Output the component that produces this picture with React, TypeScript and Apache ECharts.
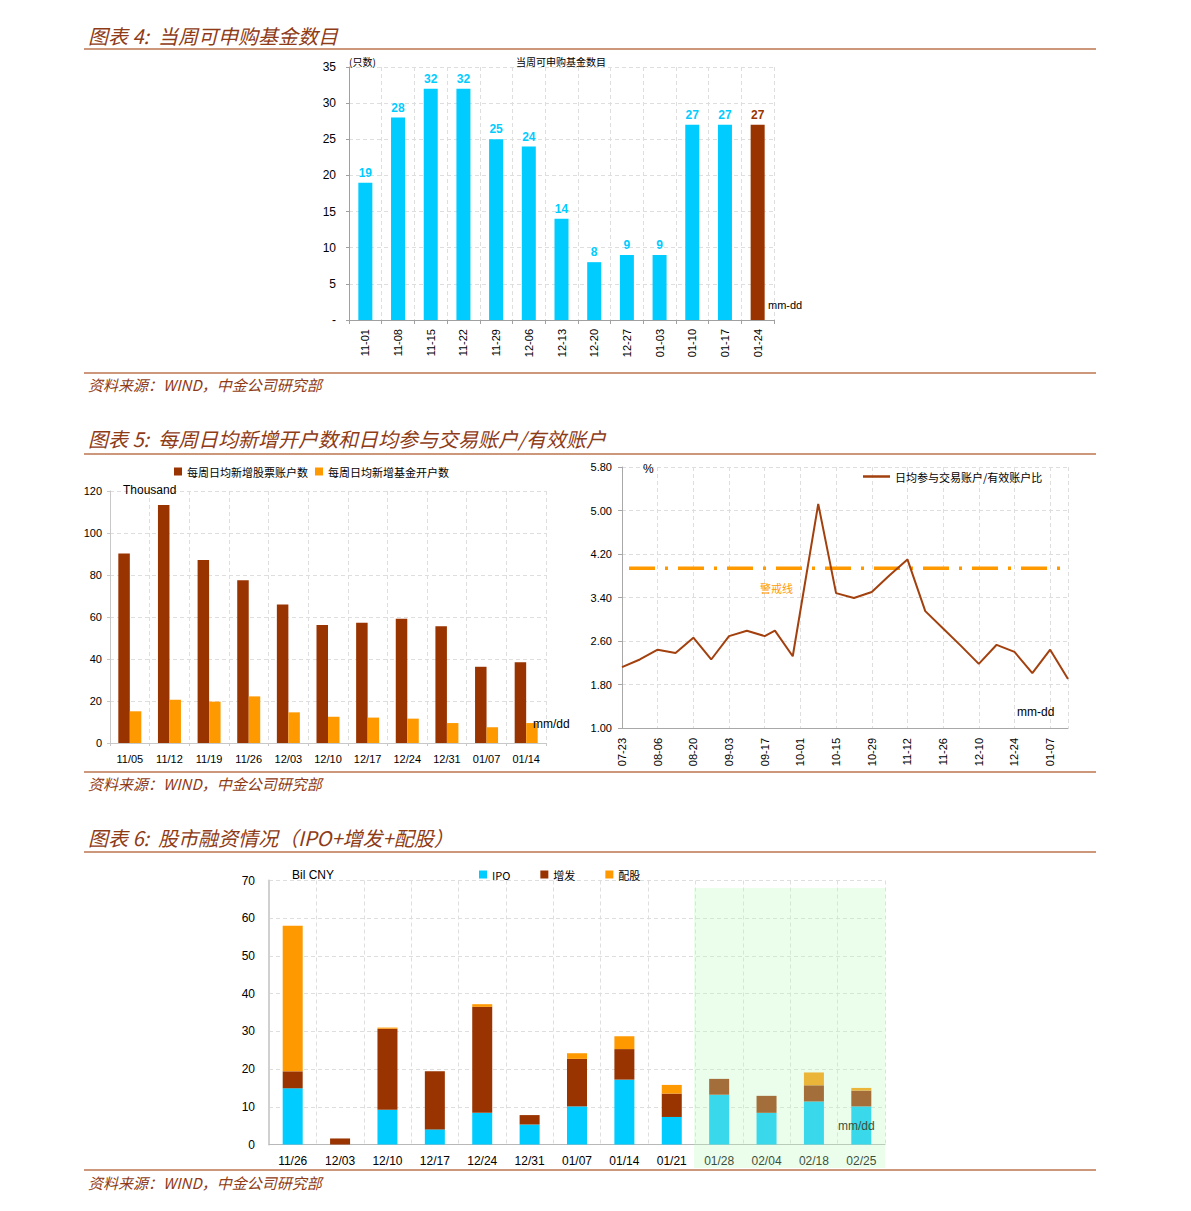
import React, { useEffect, useRef } from "react";
import * as echarts from "echarts";

// 图表4：当周可申购基金数目
const fundWeeks = ["11-01", "11-08", "11-15", "11-22", "11-29", "12-06", "12-13", "12-20", "12-27", "01-03", "01-10", "01-17", "01-24"];
const fundCounts = [19, 28, 32, 32, 25, 24, 14, 8, 9, 9, 27, 27, 27];

// 图表5（左）：每周日均新增开户数（千户）
const accountWeeks = ["11/05", "11/12", "11/19", "11/26", "12/03", "12/10", "12/17", "12/24", "12/31", "01/07", "01/14"];
const newStockAccounts = [90.2, 113.3, 87.1, 77.5, 65.9, 56.2, 57.3, 59.2, 55.6, 36.3, 38.4];
const newFundAccounts = [15.1, 20.6, 19.7, 22.2, 14.6, 12.5, 12.1, 11.6, 9.5, 7.5, 9.5];

// 图表5（右）：日均参与交易账户/有效账户比（%）
const ratioDates = [
  "2007-07-23", "2007-07-30", "2007-08-06", "2007-08-13", "2007-08-20", "2007-08-27",
  "2007-09-03", "2007-09-10", "2007-09-17", "2007-09-21", "2007-09-28", "2007-10-08",
  "2007-10-15", "2007-10-22", "2007-10-29", "2007-11-05", "2007-11-12", "2007-11-19",
  "2007-11-26", "2007-12-03", "2007-12-10", "2007-12-17", "2007-12-24", "2007-12-31",
  "2008-01-07", "2008-01-14",
];
const ratioValues = [
  2.12, 2.26, 2.44, 2.38, 2.66, 2.26,
  2.69, 2.79, 2.69, 2.79, 2.32, 5.12,
  3.48, 3.39, 3.5, 3.81, 4.1, 3.15,
  2.83, 2.51, 2.18, 2.53, 2.4, 2.01,
  2.44, 1.9,
];
const alertLevel = 3.94;
const ratioTickDays = 14;

// 图表6：股市融资情况（十亿元）
const financingWeeks = ["11/26", "12/03", "12/10", "12/17", "12/24", "12/31", "01/07", "01/14", "01/21", "01/28", "02/04", "02/18", "02/25"];
const ipoValues = [14.9, 0, 9.2, 4.0, 8.4, 5.3, 10.1, 17.2, 7.3, 13.2, 8.4, 11.4, 10.1];
const placementValues = [4.5, 1.6, 21.5, 15.4, 28.1, 2.5, 12.6, 8.1, 6.2, 4.2, 4.5, 4.3, 4.2];
const rightsValues = [38.6, 0, 0.3, 0, 0.7, 0, 1.5, 3.4, 2.3, 0, 0, 3.4, 0.7];

const LATIN = "'Liberation Sans', Arial, sans-serif";
const CJK = "'Noto Sans CJK SC', sans-serif";
const BROWN = "#993300";
const ORANGE = "#FF9900";
const CYAN = "#00CCFF";
const RATIO_LINE = "#A2400E";
const HEAD = "#8E3B16";
const RULE = "#BC7450";
const DAY = 24 * 3600 * 1000;

const toUtc = (s: string) => {
  const [y, m, d] = s.split("-").map(Number);
  return Date.UTC(y, m - 1, d);
};
const baseDay = toUtc(ratioDates[0]);
const dayOffset = (s: string) => Math.round((toUtc(s) - baseDay) / DAY);
const pad = (n: number) => (n < 10 ? "0" + n : "" + n);
const dayLabel = (v: number) => {
  const d = new Date(baseDay + v * DAY);
  return pad(d.getUTCMonth() + 1) + "-" + pad(d.getUTCDate());
};

const dashed = { show: true, lineStyle: { color: "#DEDEDE", type: [4, 3] as any, width: 1 } };
const grayAxis = (color = "#A0A0A0", width = 1) => ({ show: true, lineStyle: { color, width } });

export default function App() {
  const ref = useRef<HTMLDivElement>(null);

  useEffect(() => {
    if (!ref.current) return;
    const chart = echarts.init(ref.current, undefined, { renderer: "svg" });
    const lastFund = fundCounts.length - 1;
    const lastDay = dayOffset(ratioDates[ratioDates.length - 1]);

    const heading = (text: string, y: number) => ({
      type: "text",
      x: 88,
      y,
      style: { text, fontSize: 20, fontStyle: "italic", fontFamily: CJK, fill: HEAD, verticalAlign: "middle" },
    });
    const footer = (y: number) => ({
      type: "text",
      x: 88,
      y,
      style: { text: "资料来源：WIND，中金公司研究部", fontSize: 15, fontStyle: "italic", fontFamily: CJK, fill: HEAD, verticalAlign: "middle" },
    });
    const rule = (y: number) => ({
      type: "line",
      shape: { x1: 84, y1: y, x2: 1096, y2: y },
      style: { stroke: RULE, lineWidth: 1.5 },
    });
    const note = (text: string, x: number, y: number, size = 12, font = LATIN, fill = "#000", align = "left", z = 50) => ({
      type: "text",
      x,
      y,
      z,
      style: { text, fontSize: size, fontFamily: font, fill, verticalAlign: "middle", align },
    });

    chart.setOption({
      animation: false,
      backgroundColor: "#FFFFFF",
      textStyle: { fontFamily: LATIN },
      grid: [
        { left: 349, top: 67, width: 425, height: 253 },
        { left: 110, top: 491, width: 436, height: 252 },
        { left: 622, top: 467, width: 446, height: 261 },
        { left: 269, top: 880.5, width: 616, height: 264 },
      ],
      legend: [
        {
          data: ["每周日均新增股票账户数", "每周日均新增基金开户数"],
          left: 169,
          top: 461,
          icon: "rect",
          itemWidth: 8,
          itemHeight: 8,
          itemGap: 7,
          textStyle: { fontFamily: CJK, fontSize: 11, color: "#000" },
        },
        {
          data: ["日均参与交易账户/有效账户比"],
          left: 858,
          top: 466,
          icon: "rect",
          itemWidth: 27,
          itemHeight: 2.5,
          textStyle: { fontFamily: CJK, fontSize: 11, color: "#000" },
        },
        {
          data: ["IPO", "增发", "配股"],
          left: 474,
          top: 864,
          icon: "rect",
          itemWidth: 8,
          itemHeight: 8,
          itemGap: 30,
          textStyle: { fontFamily: CJK, fontSize: 11, color: "#000" },
        },
      ],
      xAxis: [
        {
          type: "category",
          gridIndex: 0,
          data: fundWeeks,
          axisLine: grayAxis(),
          axisTick: { show: true, length: 4, lineStyle: { color: "#A0A0A0" } },
          axisLabel: { rotate: 90, fontSize: 11, color: "#000", margin: 9, fontFamily: LATIN },
          splitLine: dashed,
        },
        {
          type: "category",
          gridIndex: 1,
          data: accountWeeks,
          axisLine: grayAxis("#C8C8C8"),
          axisTick: { show: true, length: 3, lineStyle: { color: "#C8C8C8" } },
          axisLabel: { fontSize: 11, color: "#000", margin: 10, fontFamily: LATIN },
          splitLine: dashed,
        },
        {
          type: "value",
          gridIndex: 2,
          min: 0,
          max: lastDay,
          interval: ratioTickDays,
          axisLine: grayAxis("#A8A8A8"),
          axisTick: { show: false },
          axisLabel: { rotate: 90, fontSize: 11, color: "#000", margin: 10, showMaxLabel: false, formatter: (v: number) => dayLabel(v), fontFamily: LATIN },
          splitLine: dashed,
        },
        {
          type: "category",
          gridIndex: 3,
          data: financingWeeks,
          axisLine: grayAxis("#B8B8B8"),
          axisTick: { show: false },
          axisLabel: { fontSize: 12, color: "#000", margin: 10, fontFamily: LATIN },
          splitLine: dashed,
        },
      ],
      yAxis: [
        {
          type: "value",
          gridIndex: 0,
          min: 0,
          max: 35,
          interval: 5,
          axisLine: grayAxis(),
          axisTick: { show: true, length: 3, lineStyle: { color: "#A0A0A0" } },
          axisLabel: { fontSize: 12, color: "#000", margin: 13, formatter: (v: number) => (v === 0 ? "-" : String(v)), fontFamily: LATIN },
          splitLine: dashed,
        },
        {
          type: "value",
          gridIndex: 1,
          min: 0,
          max: 120,
          interval: 20,
          axisLine: grayAxis("#C8C8C8"),
          axisTick: { show: true, length: 3, lineStyle: { color: "#C8C8C8" } },
          axisLabel: { fontSize: 11, color: "#000", margin: 8, fontFamily: LATIN },
          splitLine: dashed,
        },
        {
          type: "value",
          gridIndex: 2,
          min: 1,
          max: 5.8,
          interval: 0.8,
          axisLine: grayAxis("#A8A8A8"),
          axisTick: { show: true, length: 4, lineStyle: { color: "#A8A8A8" } },
          axisLabel: { fontSize: 11, color: "#000", margin: 10, formatter: (v: number) => v.toFixed(2), fontFamily: LATIN },
          splitLine: dashed,
        },
        {
          type: "value",
          gridIndex: 3,
          min: 0,
          max: 70,
          interval: 10,
          axisLine: grayAxis("#D0D0D0", 2),
          axisTick: { show: false },
          axisLabel: { fontSize: 12, color: "#000", margin: 14, fontFamily: LATIN },
          splitLine: dashed,
        },
      ],
      series: [
        {
          name: "当周可申购基金数目",
          type: "bar",
          xAxisIndex: 0,
          yAxisIndex: 0,
          barWidth: 14,
          itemStyle: { color: CYAN },
          label: { show: true, position: "top", distance: 4, fontSize: 12, fontWeight: "bold", color: CYAN, fontFamily: LATIN },
          data: fundCounts.map((v, i) =>
            i === lastFund ? { value: v, itemStyle: { color: BROWN }, label: { color: BROWN } } : v
          ),
        },
        {
          name: "每周日均新增股票账户数",
          type: "bar",
          xAxisIndex: 1,
          yAxisIndex: 1,
          barWidth: 11.5,
          barGap: "0%",
          itemStyle: { color: BROWN },
          data: newStockAccounts,
        },
        {
          name: "每周日均新增基金开户数",
          type: "bar",
          xAxisIndex: 1,
          yAxisIndex: 1,
          barWidth: 11.5,
          barGap: "0%",
          itemStyle: { color: ORANGE },
          data: newFundAccounts,
        },
        {
          name: "警戒线",
          type: "line",
          xAxisIndex: 2,
          yAxisIndex: 2,
          symbol: "none",
          z: 1,
          lineStyle: { color: ORANGE, width: 3.5, type: [26, 10, 3, 10] as any, dashOffset: 42 },
          data: [
            [0, alertLevel],
            [lastDay, alertLevel],
          ],
        },
        {
          name: "日均参与交易账户/有效账户比",
          type: "line",
          xAxisIndex: 2,
          yAxisIndex: 2,
          symbol: "none",
          z: 3,
          color: RATIO_LINE,
          itemStyle: { color: RATIO_LINE },
          lineStyle: { color: RATIO_LINE, width: 2 },
          data: ratioDates.map((d, i) => [dayOffset(d), ratioValues[i]]),
        },
        {
          name: "IPO",
          type: "bar",
          stack: "financing",
          xAxisIndex: 3,
          yAxisIndex: 3,
          barWidth: 20,
          itemStyle: { color: CYAN },
          data: ipoValues,
        },
        {
          name: "增发",
          type: "bar",
          stack: "financing",
          xAxisIndex: 3,
          yAxisIndex: 3,
          barWidth: 20,
          itemStyle: { color: BROWN },
          data: placementValues,
        },
        {
          name: "配股",
          type: "bar",
          stack: "financing",
          xAxisIndex: 3,
          yAxisIndex: 3,
          barWidth: 20,
          itemStyle: { color: ORANGE },
          data: rightsValues,
        },
      ],
      graphic: [
        heading("图表 4:  当周可申购基金数目", 35),
        rule(49),
        rule(373),
        footer(384),
        heading("图表 5:  每周日均新增开户数和日均参与交易账户/有效账户", 438),
        rule(454),
        rule(772),
        footer(783),
        heading("图表 6:  股市融资情况（IPO+增发+配股）", 837),
        rule(852),
        rule(1170),
        footer(1182),
        note("(只数)", 349, 61, 10, CJK),
        note("当周可申购基金数目", 561, 61, 10, CJK, "#000", "center"),
        note("mm-dd", 768, 305, 11),
        note("Thousand", 123, 490, 12),
        note("mm/dd", 533, 724, 12),
        note("%", 643, 469, 12),
        note("mm-dd", 1017, 712, 12),
        note("警戒线", 760, 588, 11, CJK, ORANGE),
        note("Bil CNY", 292, 875, 12),
        note("mm/dd", 838, 1126, 12),
        {
          type: "rect",
          z: 100,
          shape: { x: 694, y: 888, width: 191, height: 280 },
          style: { fill: "rgba(190,250,190,0.3)" },
        },
      ],
    });

    return () => chart.dispose();
  }, []);

  return <div ref={ref} style={{ position: "absolute", left: 0, top: 0, width: 1191, height: 1211 }} />;
}
